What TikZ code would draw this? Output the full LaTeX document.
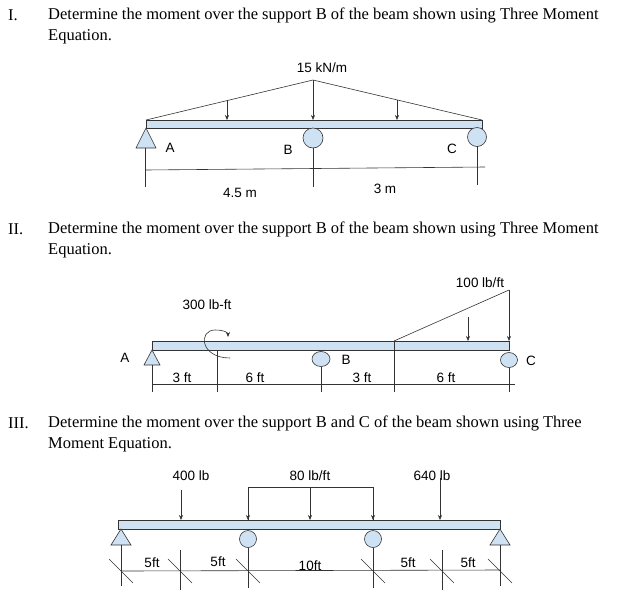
\documentclass[tikz,border=0pt]{standalone}
\usepackage{fontspec}
\usetikzlibrary{arrows.meta}
\setmainfont{Liberation Serif}
\newfontfamily\lab{Liberation Sans}
\begin{document}
\begin{tikzpicture}[x=1pt,y=-1pt,
  beam/.style={draw=black!80,fill=beamblue,line width=0.8pt},
  sup/.style={draw=black!80,fill=beamblue,line width=0.6pt},
  thin/.style={draw=black!80,line width=0.6pt},
  ld/.style={draw=black!80,line width=0.6pt,-{Stealth[length=5pt,width=4pt]}},
  lbl/.style={font=\lab\fontsize{13.5}{15}\selectfont,inner sep=0pt},
  hd/.style={font=\fontsize{16.5}{19}\selectfont,inner sep=0pt,anchor=west}]
\definecolor{beamblue}{HTML}{CFE2F3}
\useasboundingbox (0,0) rectangle (629,603);
% headings
\node[hd] (h1n) at (8,15) {I.};
\node[hd] (h1a) at (48,15) {Determine the moment over the support B of the beam shown using Three Moment};
\node[hd] (h1b) at (48,37) {Equation.};
\node[hd] (h2n) at (8,229) {II.};
\node[hd] (h2a) at (48,229) {Determine the moment over the support B of the beam shown using Three Moment};
\node[hd] (h2b) at (48,251) {Equation.};
\node[hd] (h3n) at (8,423) {III.};
\node[hd] (h3a) at (48,423) {Determine the moment over the support B and C of the beam shown using Three};
\node[hd] (h3b) at (48,445) {Moment Equation.};

% ===== Diagram I
\coordinate (L1) at (146,120); \coordinate (P1) at (313,80); \coordinate (R1) at (482,120);
\draw[thin] (L1) -- (P1) -- (R1);
\draw[beam] (146,120) rectangle (482,128);
\draw[ld] (227,100) -- (227,120);
\draw[ld] (P1) -- (313,120);
\draw[ld] (397,100) -- (397,120);
\node[lbl] (q1) at (322,68) {15 kN/m};
\draw[sup] (146,128) -- (136,148) -- (156,148) -- cycle;
\draw[sup] (313,138) circle (10);
\draw[sup] (477,137) circle (9.5);
\draw[thin] (145,148) -- (145,187);
\draw[thin] (313,148) -- (313,187);
\draw[thin] (477,146) -- (477,185);
\draw[thin] (145,170) -- (485,167);
\node[lbl] (a1) at (170,148) {A};
\node[lbl] (b1) at (288,150) {B};
\node[lbl] (c1) at (452,149) {C};
\node[lbl] (d11) at (240,193) {4.5 m};
\node[lbl] (d12) at (385,189) {3 m};

% ===== Diagram II
\draw[thin] (394,341) -- (509,290);
\draw[beam] (152,341) rectangle (509,350);
\draw[ld] (468,317) -- (468,341);
\draw[ld] (509,290) -- (509,341);
\node[lbl] (q2) at (480,283) {100 lb/ft};
\draw[thin,-{Stealth[length=5pt,width=4pt]}] (230,358) .. controls (200,358) and (198,330) .. (215,330) .. controls (225,330) and (228,333) .. (228,337);
\node[lbl] (m2) at (207,305) {300 lb-ft};
\draw[sup] (152,350) -- (144,365) -- (160,365) -- cycle;
\draw[sup] (321,359) ellipse (9 and 7.5);
\draw[sup] (509,360) ellipse (8.5 and 7.5);
\draw[thin] (152,365) -- (152,392);
\draw[thin] (217,350) -- (217,392);
\draw[thin] (321,367) -- (321,392);
\draw[thin] (394,341) -- (394,392);
\draw[thin] (509,368) -- (509,392);
\draw[thin] (152,384) -- (515,384);
\node[lbl] (a2) at (125,358) {A};
\node[lbl] (b2) at (346,360) {B};
\node[lbl] (c2) at (531,361) {C};
\node[lbl] (d21) at (182,378) {3 ft};
\node[lbl] (d22) at (255,378) {6 ft};
\node[lbl] (d23) at (362,378) {3 ft};
\node[lbl] (d24) at (446,378) {6 ft};

% ===== Diagram III
\draw[beam] (118,520) rectangle (500,529);
\draw[ld] (181,490) -- (181,520);
\node[lbl] (f1) at (191,476) {400 lb};
\draw[thin] (248,520) -- (248,487) -- (373,487) -- (373,520);
\draw[ld] (248,500) -- (248,520);
\draw[ld] (310,487) -- (310,520);
\draw[ld] (373,500) -- (373,520);
\node[lbl] (q3) at (310,476) {80 lb/ft};
\draw[ld] (440,478) -- (440,520);
\node[lbl] (f3) at (432,476) {640 lb};
\draw[sup] (121,529) -- (111,545) -- (131,545) -- cycle;
\draw[sup] (500,529) -- (490,545) -- (510,545) -- cycle;
\draw[sup] (248,539) circle (8.5);
\draw[sup] (373,539) circle (8.5);
\draw[thin] (121,545) -- (121,586);
\draw[thin] (180,550) -- (180,590);
\draw[thin] (248,548) -- (248,588);
\draw[thin] (373,548) -- (373,588);
\draw[thin] (442,550) -- (442,590);
\draw[thin] (500,545) -- (500,586);
\draw[thin] (121,571) -- (500,570);
\foreach \x in {121,180,248,373,442,500} \draw[thin] (\x-12,559) -- (\x+12,583);
\node[lbl] (e1) at (152,563) {5ft};
\node[lbl] (e2) at (218,562) {5ft};
\node[lbl] (e3) at (310,566) {10ft};
\node[lbl] (e4) at (408,563) {5ft};
\node[lbl] (e5) at (468,563) {5ft};
\end{tikzpicture}
\end{document}
